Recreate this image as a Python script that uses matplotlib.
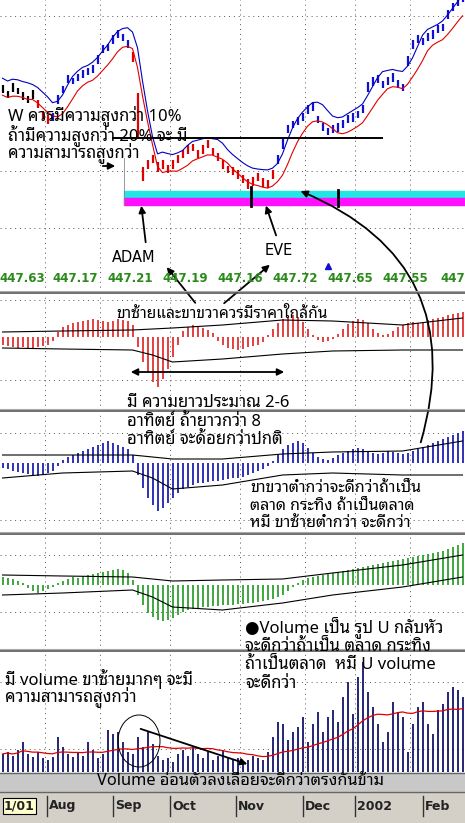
import matplotlib
matplotlib.use("Agg")
import matplotlib.pyplot as plt
import numpy as np
import pandas as pd
from matplotlib.patches import Ellipse, FancyArrowPatch

plt.rcParams['font.family'] = ['Noto Sans Thai Looped', 'Noto Sans Thai', 'DejaVu Sans']

# ---------------- data (pixel-read estimates) ----------------
close_y = [90,95,88,92,97,100,95,105,115,120,
           118,100,90,80,82,78,75,72,
           70,60,50,48,40,35,38,45,
           58,120,175,165,160,168,165,170,165,160,
           155,150,148,155,150,145,152,
           158,165,170,172,175,180,185,
           182,178,183,185,175,
           160,145,130,125,122,
           118,110,108,120,
           128,132,130,128,125,
           120,118,115,110,
           88,82,80,85,82,
           78,85,88,
           62,45,40,42,
           38,35,30,28,
           15,8,3,0]
spread = [8,7,9,6,8,7,9,8,7,9,
          8,9,7,8,6,7,8,7,
          8,9,8,7,9,8,7,8,
          10,45,14,9,8,10,9,8,9,8,
          8,9,7,8,9,8,7,
          8,9,7,8,9,8,10,
          9,8,9,8,9,
          9,10,8,7,8,
          8,9,8,7,
          8,7,8,9,8,
          8,9,7,8,
          10,9,8,7,8,
          9,8,7,
          10,9,8,7,
          8,9,8,7,
          9,8,7,6]
colors = "kkkkkkkrrr" + "b"*16 + "r"*29 + "b"*38

osc1 = [-8,-9,-10,-11,-10,-11,-12,-10,-9,-8,
        -4,5,10,12,14,15,16,17,18,17,
        16,15,16,18,17,16,12,-10,-25,-35,
        -45,-50,-42,-32,-20,-8,6,10,12,11,
        9,7,4,-4,-8,-11,-12,-13,-12,-10,
        -9,-8,-5,2,8,14,18,20,22,20,
        15,8,2,-3,-5,-4,-2,3,8,13,
        16,18,17,14,8,4,2,3,6,10,
        12,14,15,14,15,17,18,19,20,22,
        23,24,25]
osc2 = [-5,-6,-8,-9,-10,-11,-12,-13,-12,-10,
        -8,-3,3,6,8,10,12,14,16,18,
        20,22,20,18,16,14,8,-12,-25,-35,
        -42,-48,-45,-40,-35,-30,-26,-24,-22,-20,
        -20,-19,-18,-18,-17,-16,-15,-15,-14,-12,
        -10,-8,-6,-3,2,8,14,18,20,22,
        20,15,10,6,4,3,5,8,10,12,
        14,15,14,12,10,9,10,12,11,10,
        9,10,12,14,16,18,20,22,24,26,
        28,30,32]
osc3 = [8,7,6,4,2,-3,-6,-8,-6,-4,
        -2,2,4,6,8,7,9,10,11,12,
        13,14,15,16,15,12,5,-10,-20,-28,
        -32,-35,-36,-35,-33,-30,-27,-25,-24,-23,
        -22,-22,-21,-21,-20,-20,-20,-19,-19,-18,
        -18,-17,-16,-15,-14,-12,-10,-6,-2,2,
        5,7,8,9,10,11,12,13,14,15,
        16,17,18,19,20,21,22,23,24,25,
        26,27,28,29,30,31,32,33,34,36,
        38,40,42]
volume = [18,20,16,22,30,18,15,20,14,12,
          15,35,25,18,15,20,16,30,22,14,
          18,42,38,40,30,20,18,35,25,40,
          28,16,12,14,10,18,22,16,25,18,
          14,20,12,16,22,15,12,14,10,12,
          16,14,12,20,35,50,48,32,40,45,
          55,30,48,60,40,55,62,50,75,90,
          58,95,110,80,65,48,30,40,70,60,
          55,20,48,65,70,48,38,62,68,80,
          85,82,75]

l_idx = [0, 12, 26, 30, 34, 44, 56, 66, 80, 92]
p2a = [5, 6, 7, 8, 9, 12, 17, 16, 12, 19]
p2b = [-11, -12, -13, -18, -25, -22, -17, -14, -13, -13]
p3a = [8, 8, 8, 6, 4, 4, 9, 11, 12, 22]
p3b = [-15, -10, -8, -15, -26, -22, -12, -10, -12, -12]
p4a = [10, 9, 8, 6, 4, 5, 6, 12, 20, 30]
p4b = [-10, -8, -5, -12, -22, -25, -18, -10, -2, 8]

month_labels = ["1/01", "Aug", "Sep", "Oct", "Nov", "Dec", "2002", "Feb"]
month_px = [2, 47, 113, 170, 236, 303, 355, 423]
row_numbers = ["447.63", "447.17", "447.21", "447.19", "447.16", "447.72", "447.65", "447.55", "447."]
row_px = [22, 75, 130, 185, 240, 295, 350, 405, 455]

# ---------------- figure ----------------
W, H = 465, 823
fig = plt.figure(figsize=(W/100, H/100), dpi=100)
fig.patch.set_facecolor('white')
n = len(close_y)
idx = np.arange(n)

def panel(top, bottom):
    ax = fig.add_axes([0, 1 - bottom/H, 1, (bottom - top)/H])
    ax.set_xlim(-0.5, n - 0.5)
    ax.set_axis_off()
    return ax

def dotgrid(ax, ys):
    for y in ys:
        ax.axhline(y, color='#555555', lw=0.7, ls=(0, (1, 4)), zorder=0)
    for xi in [8.5, 19.5, 33.5, 47.5, 60.5, 70.5, 81.5]:
        ax.axvline(xi, color='#555555', lw=0.7, ls=(0, (1, 4)), zorder=0)

axp = panel(0, 292)
axp.set_ylim(8, 300)
price = 300 - np.array(close_y, dtype=float)
sp = np.array(spread, dtype=float)
hi = price + sp * 0.6
lo = price - sp * 0.4
cmap = {'k': 'black', 'r': '#e00000', 'b': '#1010d0'}
for i in range(n):
    c = cmap[colors[i]]
    axp.vlines(i, lo[i], hi[i], color=c, lw=1.6)
    axp.hlines(price[i], i, i + 0.35, color=c, lw=1.2)
ma_hi = pd.Series(hi).rolling(4, min_periods=1).mean() + 7
ma_lo = pd.Series(lo).rolling(5, min_periods=1).mean() - 2
axp.plot(idx, ma_hi, color='#0000c0', lw=0.8)
axp.plot(idx, ma_lo, color='#e00000', lw=0.8)
dotgrid(axp, [300-16, 300-171, 300-228])

def osc(top, bottom, zero_px, vals, la, lb, color, lo_px, hi_px):
    ax = panel(top, bottom)
    ax.set_ylim(zero_px - bottom, zero_px - top)
    ax.vlines(idx, 0, vals, color=color, lw=1.3)
    ax.plot(l_idx, la, color='black', lw=0.8)
    ax.plot(l_idx, lb, color='black', lw=0.8)
    dotgrid(ax, [zero_px - lo_px, zero_px - hi_px])
    return ax

osc(294, 410, 337, osc1, p2a, p2b, '#e03030', 300, 380)
osc(412, 533, 463, osc2, p3a, p3b, '#2020b0', 433, 520)
osc(535, 650, 585, osc3, p4a, p4b, '#30a030', 555, 612)

axv = panel(652, 772)
axv.set_ylim(0, 120)
axv.vlines(idx, 0, volume, color='#000060', lw=1.2)
axv.plot(idx, pd.Series(volume).rolling(22, min_periods=1).mean(), color='#e00000', lw=0.9)
dotgrid(axv, [120-30, 120-97])

ov = fig.add_axes([0, 0, 1, 1])
ov.set_xlim(0, W); ov.set_ylim(H, 0); ov.set_axis_off()
ov.patch.set_alpha(0)

ov.fill_between([124, 465], 191, 198, color='#22e5e5', zorder=1)
ov.fill_between([124, 465], 198, 205, color='#ff10ff', zorder=1)
ov.plot([113, 382], [138, 138], color='black', lw=1.4)
ov.plot([124, 124], [158, 205], color='#888888', lw=0.6)
ov.plot([251, 251], [187, 206], color='black', lw=2)
ov.plot([338, 338], [190, 206], color='black', lw=2)

for y in [293, 411, 534, 651]:
    ov.plot([0, 465], [y, y], color='#555555', lw=1.2)
    ov.plot([0, 465], [y - 2, y - 2], color='#aaaaaa', lw=0.8)

for t, x in zip(row_numbers, row_px):
    ov.text(x, 279, t, color='#2a8a1a', fontsize=8.5, fontweight='bold', ha='center', va='center',
            family='DejaVu Sans')
ov.plot([328], [266], marker='^', color='#1010d0', ms=4)

ov.fill_between([0, 465], 773, 791, color='#c8c8c8')
ov.plot([0, 465], [773, 773], color='#666666', lw=1)
ov.text(240, 782, "Volume อ่อนตัวลงเลื่อยจะดีกว่าตรงกันข้าม", fontsize=11.8, ha='center', va='center')
ov.fill_between([0, 465], 792, 823, color='#d4d0c8')
ov.plot([0, 465], [792, 792], color='#666666', lw=1)
for t, x in zip(month_labels, month_px):
    ov.text(x + 2, 806, t, fontsize=9, fontweight='bold', ha='left', va='center', color='#222222',
            family='DejaVu Sans',
            bbox=dict(boxstyle='square,pad=0.1', fc='#ffffd0', ec='black', lw=0.8) if t == "1/01" else None)
    if t != "1/01":
        ov.plot([x, x], [796, 816], color='#333333', lw=1)

fs = 12
ov.text(8, 116, "W ควรมีความสูงกว่า 10%", fontsize=fs, va='center')
ov.text(8, 135, "ถ้ามีความสูงกว่า 20% จะ มี", fontsize=fs, va='center')
ov.text(8, 153, "ความสามารถสูงกว่า", fontsize=fs, va='center')
ov.text(112, 258, "ADAM", fontsize=10.5, va='center', family='DejaVu Sans')
ov.text(265, 250, "EVE", fontsize=10.5, va='center', family='DejaVu Sans')
ov.text(222, 314, "ขาซ้ายและขาขวาควรมีราคาใกล้กัน", fontsize=11.2, ha='center', va='center')
for k, t in enumerate(["มี ความยาวประมาณ 2-6", "อาทิตย์ ถ้ายาวกว่า 8", "อาทิตย์ จะด้อยกว่าปกติ"]):
    ov.text(127, 403 + 18.5*k, t, fontsize=fs, va='center')
for k, t in enumerate(["ขาขวาต่ำกว่าจะดีกว่าถ้าเป็น", "ตลาด กระทิง ถ้าเป็นตลาด", "หมี ขาซ้ายต่ำกว่า จะดีกว่า"]):
    ov.text(250, 488 + 18*k, t, fontsize=11.5, va='center')
for k, t in enumerate(["●Volume เป็น รูป U กลับหัว", "จะดีกว่าถ้าเป็น ตลาด กระทิง", "ถ้าเป็นตลาด  หมี U volume", "จะดีกว่า"]):
    ov.text(245, 628 + 18.5*k, t, fontsize=fs, va='center')
ov.text(5, 679, "มี volume ขาซ้ายมากๆ จะมี", fontsize=fs, va='center')
ov.text(5, 697, "ความสามารถสูงกว่า", fontsize=fs, va='center')

def arrow(p0, p1, style='-|>', rad=0.0, lw=1.3):
    ov.add_patch(FancyArrowPatch(p0, p1, arrowstyle=style, mutation_scale=10, color='black', lw=lw,
                                 connectionstyle=f"arc3,rad={rad}"))

arrow((146, 245), (141, 203))
arrow((277, 238), (265, 203))
arrow((100, 166), (118, 166))
arrow((197, 305), (165, 265))
arrow((222, 305), (272, 263))
arrow((128, 372), (287, 372), style='<|-|>')
arrow((420, 445), (298, 190), rad=0.45)
arrow((138, 728), (250, 765))
ov.add_patch(Ellipse((139, 741), 42, 52, fill=False, ec='black', lw=0.7))

fig.savefig("out.png", dpi=100)
